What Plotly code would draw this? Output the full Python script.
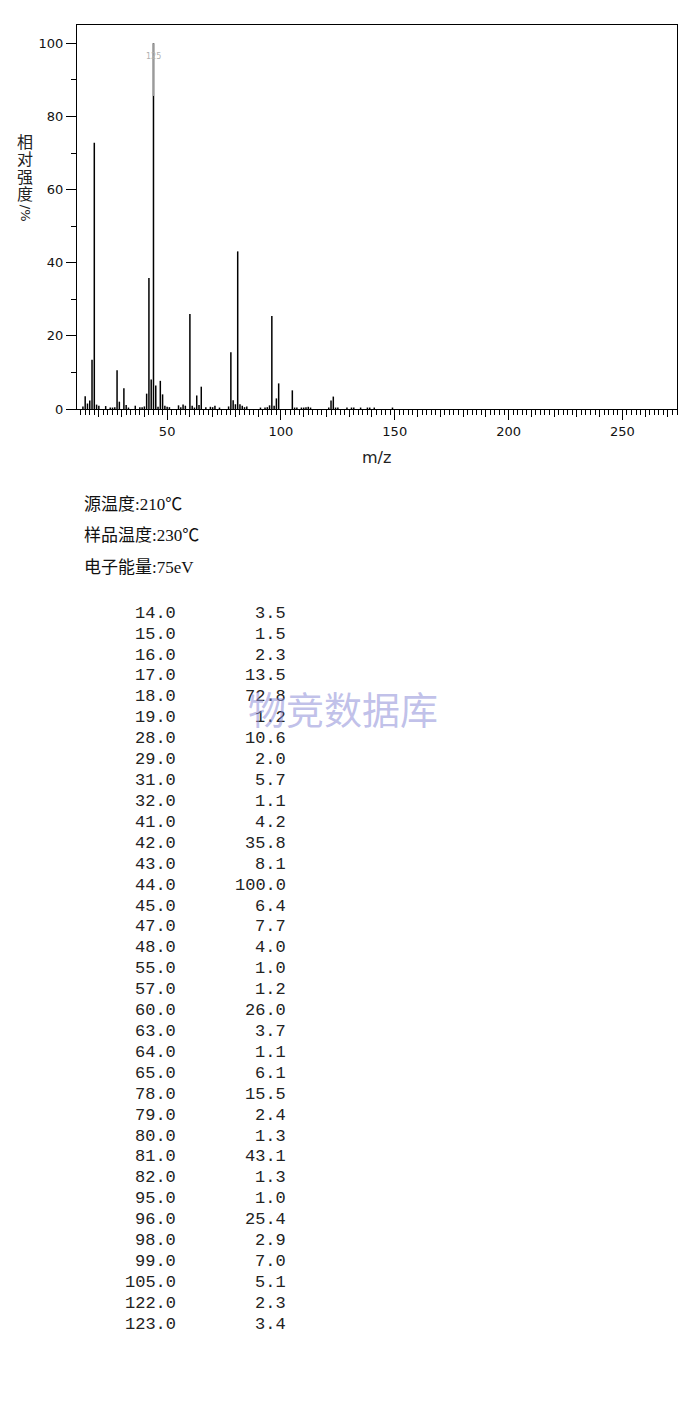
import plotly.graph_objects as go

# ---- data ----
mz_table = [14, 15, 16, 17, 18, 19, 28, 29, 31, 32, 41, 42, 43, 44, 45, 47, 48, 55, 57,
            60, 63, 64, 65, 78, 79, 80, 81, 82, 95, 96, 98, 99, 105, 122, 123]
int_table = [3.5, 1.5, 2.3, 13.5, 72.8, 1.2, 10.6, 2.0, 5.7, 1.1, 4.2, 35.8, 8.1, 100.0,
             6.4, 7.7, 4.0, 1.0, 1.2, 26.0, 3.7, 1.1, 6.1, 15.5, 2.4, 1.3, 43.1, 1.3, 1.0,
             25.4, 2.9, 7.0, 5.1, 2.3, 3.4]
# weak peaks (<1 %)
mz_minor = [13, 20, 23, 25, 26, 27, 33, 36, 38, 39, 40, 46, 49, 50, 51, 56, 58, 61, 62, 67,
            69, 70, 71, 73, 77, 83, 84, 85, 91, 93, 94, 97, 106, 107, 109, 110, 111, 112,
            113, 121, 124, 125, 129, 131, 132, 135, 138, 139, 141, 149]
int_minor = [0.7, 0.9, 0.8, 0.4, 0.4, 0.5, 0.4, 0.9, 0.5, 0.5, 0.7, 0.6, 0.9, 0.6, 0.5, 0.5,
             0.9, 0.9, 0.4, 0.5, 0.6, 0.5, 0.9, 0.4, 0.7, 0.9, 0.5, 0.7, 0.4, 0.4, 0.5, 0.9,
             0.4, 0.4, 0.4, 0.4, 0.5, 0.6, 0.4, 0.4, 0.4, 0.4, 0.4, 0.4, 0.4, 0.4, 0.4, 0.4,
             0.4, 0.4]
base_peak_mz = 44
base_peak_grey_from = 85.6
peak_label = "125"
x_ticks = [50, 100, 150, 200, 250]
y_ticks = [0, 20, 40, 60, 80, 100]
info_lines = ["源温度:210℃", "样品温度:230℃", "电子能量:75eV"]
y_title_chars = ["相", "对", "强", "度"]

OFF = 8  # default page body margin
W, H = 687 - OFF, 1417 - OFF
L, R, T, B = 77 - OFF, 677 - OFF, 25 - OFF, 409.5 - OFF


def px(x):
    return (x - OFF - L) / (R - L)


def py(y):
    return (B - (y - OFF)) / (B - T)


def stems(xs, ys):
    sx, sy = [], []
    for a, b in zip(xs, ys):
        sx += [a, a, None]
        sy += [0, b, None]
    return sx, sy


all_mz = mz_minor + mz_table
all_int = int_minor + int_table
sx, sy = stems(all_mz, all_int)

fig = go.Figure()
fig.add_trace(go.Scatter(x=sx, y=sy, mode="lines", line=dict(color="black", width=1.5),
                         hoverinfo="skip", showlegend=False))
# grey upper part of the base peak
fig.add_trace(go.Scatter(x=[base_peak_mz, base_peak_mz],
                         y=[base_peak_grey_from, int_table[mz_table.index(base_peak_mz)]],
                         mode="lines", line=dict(color="#9a9a9a", width=1.5),
                         hoverinfo="skip", showlegend=False))
# dummy trace for the overlay tick axis
fig.add_trace(go.Scatter(x=[50], y=[0], xaxis="x2", mode="markers",
                         marker=dict(opacity=0), hoverinfo="skip", showlegend=False))

axis_font = dict(family="DejaVu Sans", size=13, color="#111")
fig.update_layout(
    width=W, height=H,
    margin=dict(l=L, r=W - R, t=T, b=H - B, autoexpand=False),
    paper_bgcolor="white", plot_bgcolor="white",
    xaxis=dict(range=[10.4, 274.0], tickvals=x_ticks, ticks="outside", ticklen=10,
               tickwidth=1, tickcolor="black", showline=True, linecolor="black",
               linewidth=1, mirror=True, showgrid=False, zeroline=False,
               tickfont=axis_font,
               minor=dict(dtick=2, tick0=0, ticks="outside", ticklen=5,
                          tickcolor="black", tickwidth=1, showgrid=False)),
    xaxis2=dict(overlaying="x", matches="x", anchor="y", side="bottom",
                tickvals=list(range(10, 280, 10)), ticks="outside", ticklen=7,
                tickcolor="black", showticklabels=False, showline=False,
                showgrid=False, zeroline=False),
    yaxis=dict(range=[0, 105], tickvals=y_ticks, ticks="outside", ticklen=10,
               tickwidth=1, tickcolor="black", showline=True, linecolor="black",
               linewidth=1, mirror=True, showgrid=False, zeroline=False,
               tickfont=axis_font,
               minor=dict(dtick=10, tick0=0, ticks="outside", ticklen=5,
                          tickcolor="black", tickwidth=1, showgrid=False)),
)

ann = []


def add(x, y, text, font, xanchor="center", **kw):
    ann.append(dict(x=px(x), y=py(y), xref="paper", yref="paper", text=text,
                    xanchor=xanchor, yanchor="middle", showarrow=False, font=font, **kw))


# base peak label
ann.append(dict(x=base_peak_mz, y=96.3, xref="x", yref="y", text=peak_label,
                xanchor="center", yanchor="middle",
                showarrow=False, font=dict(family="DejaVu Sans", size=8, color="#b0b0b0")))
# x title
add(376, 458, "m/z", dict(family="DejaVu Sans", size=16, color="#222"))
# y title (stacked characters)
for i, ch in enumerate(y_title_chars):
    add(25, 141 + 17.5 * i, ch, dict(family="Noto Sans CJK SC", size=16, color="#222"))
add(25, 213, "/%", dict(family="DejaVu Sans", size=13, color="#222"), textangle=90)
# info lines
for i, t in enumerate(info_lines):
    add(82, 505 + 31.5 * i, t,
        dict(family="Liberation Serif, Noto Sans CJK SC", size=17, color="#111"),
        xanchor="left")
# peak table
row0, step = 614, (1326 - 614) / (len(mz_table) - 1)
mono = dict(family="Liberation Mono", size=17, color="#222")
for i, (m, v) in enumerate(zip(mz_table, int_table)):
    add(178, row0 + step * i, f"{m:.1f}", mono, xanchor="right")
    add(288, row0 + step * i, f"{v:.1f}", mono, xanchor="right")
# watermark
add(343, 708, "物竞数据库",
    dict(family="Noto Sans CJK SC", size=38, color="rgba(140,140,215,0.55)"))
fig.update_layout(annotations=ann)

fig.write_html("out.html")
